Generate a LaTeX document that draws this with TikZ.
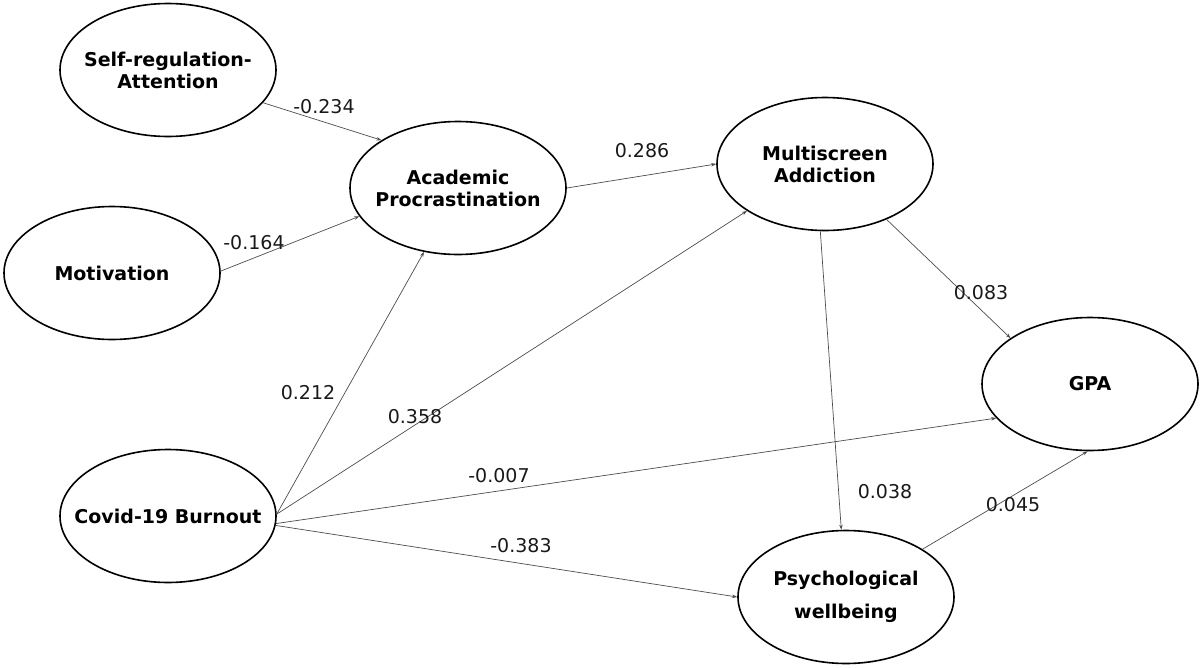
\documentclass[tikz,border=0pt]{standalone}
\usepackage{fontspec}
\setmainfont{DejaVu Sans}
\usetikzlibrary{shapes.geometric,arrows.meta}
\begin{document}
\begin{tikzpicture}[x=1pt,y=-1pt,
  construct/.style={ellipse,draw=black,line width=1.6pt,minimum width=216pt,minimum height=133pt,inner xsep=-40pt,inner ysep=0pt,align=center,font=\fontsize{19}{22}\selectfont\bfseries},
  path/.style={draw=black!70,line width=0.7pt,-{Stealth[length=5pt,width=3.5pt]}},
  coef/.style={font=\fontsize{19}{22}\selectfont,inner sep=0pt,text=black!90}]
\useasboundingbox (0,0) rectangle (1200,667);
\node[construct] (sra) at (168,70) {Self-regulation-\\Attention};
\node[construct] (mot) at (112,273) {Motivation};
\node[construct] (ap) at (458,188) {Academic\\Procrastination};
\node[construct] (ma) at (825,164) {Multiscreen\\Addiction};
\node[construct] (gpa) at (1090,384) {GPA};
\node[construct] (cov) at (168,516) {Covid-19 Burnout};
\node[construct] (pw) at (846,597) {Psychological\\[11pt]wellbeing};

\draw[path] (sra.-19) -- (ap.148);
\draw[path] (mot.1) -- (ap.196);
\draw[path] (ap.east) -- (ma.west);
\draw[path] (ma.-42) -- (gpa.150);
\draw[path] (ma.-94) -- (pw.94);
\draw[path] (pw.32) -- (gpa.-92);
\draw[path] (cov.1) -- (ap.242);
\draw[path] (cov.1) -- (ma.211);
\draw[path] (cov.-4) -- (gpa.200);
\draw[path] (cov.-5) -- (pw.west);

\node[coef] (l1) at (324,107) {-0.234};
\node[coef] (l2) at (254,243) {-0.164};
\node[coef] (l3) at (642,151) {0.286};
\node[coef] (l4) at (981,293) {0.083};
\node[coef] (l5) at (885,492) {0.038};
\node[coef] (l6) at (1013,505) {0.045};
\node[coef] (l7) at (308,393) {0.212};
\node[coef] (l8) at (415,417) {0.358};
\node[coef] (l9) at (499,476) {-0.007};
\node[coef] (l10) at (521,546) {-0.383};
\end{tikzpicture}
\end{document}
